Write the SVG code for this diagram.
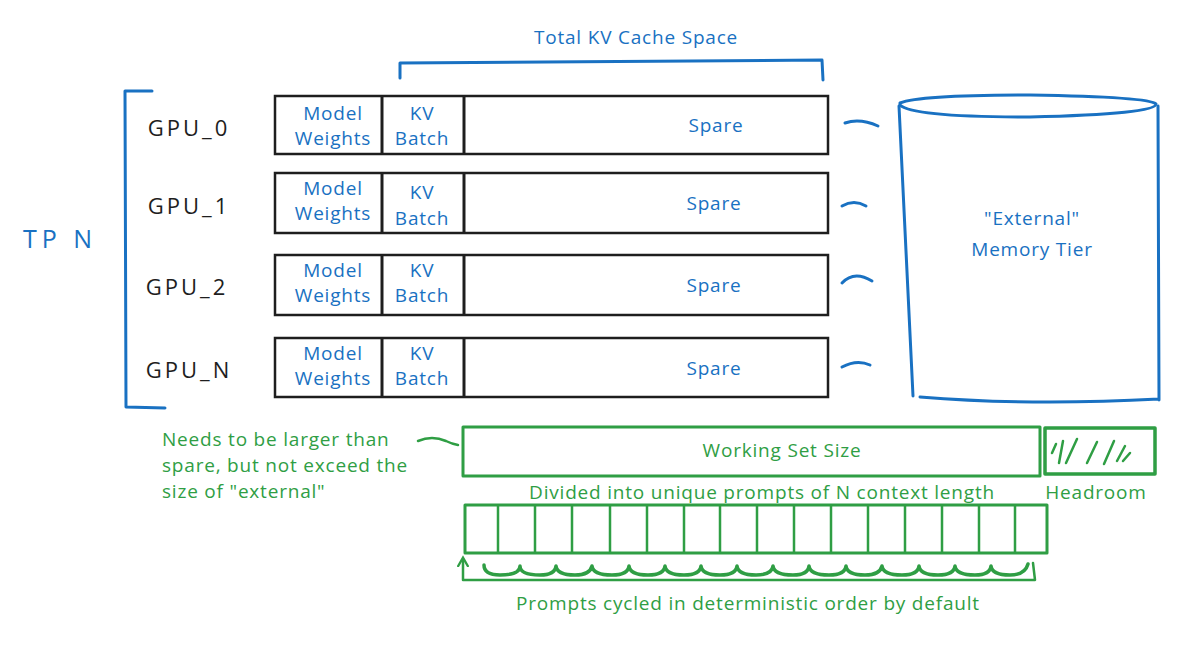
<svg xmlns="http://www.w3.org/2000/svg" width="1200" height="666" viewBox="0 0 1200 666">
<style>
text{font-family:"Open Sans","Liberation Sans",sans-serif;font-size:19px;letter-spacing:0.8px;text-anchor:middle}
.b{fill:#1971c2}.g{fill:#2f9e44}.k{fill:#1e1e1e;font-size:22px;letter-spacing:3px}
.box{fill:none;stroke:#1e1e1e;stroke-width:2.5}
.div{stroke:#1e1e1e;stroke-width:3}
.bl{fill:none;stroke:#1971c2;stroke-width:3;stroke-linecap:round;stroke-linejoin:round}
.gl{fill:none;stroke:#2f9e44;stroke-width:2.5;stroke-linecap:round;stroke-linejoin:round}
</style>
<defs>
<marker id="ah" viewBox="0 0 10 10" refX="6" refY="5" markerWidth="12" markerHeight="12" markerUnits="userSpaceOnUse" orient="auto-start-reverse">
<path d="M1,1 L8,5 L1,9" fill="none" stroke="#2f9e44" stroke-width="2" stroke-linecap="round"/>
</marker>
</defs>
<rect width="1200" height="666" fill="#fff"/>

<g id="tp">
<path class="bl" d="M152,91 L125,91 L126,407 L165,408"/>
<text class="b" x="60" y="248" style="font-size:25px;letter-spacing:5px">TP N</text>
</g>

<g id="kvspace">
<path class="bl" d="M400,78 L400,63 L822,60 L823,80"/>
<text class="b" x="636" y="44">Total KV Cache Space</text>
</g>

<g id="gpu0">
<text class="k" x="189" y="136">GPU_0</text>
<rect class="box" x="275" y="96" width="553" height="58"/>
<line class="div" x1="382" y1="96" x2="382" y2="154"/><line class="div" x1="464" y1="96" x2="464" y2="154"/>
<text class="b" x="333" y="120">Model</text><text class="b" x="333" y="145">Weights</text>
<text class="b" x="422" y="120">KV</text><text class="b" x="422" y="145">Batch</text>
<text class="b" x="716" y="132">Spare</text>
</g>
<g id="gpu1">
<text class="k" x="189" y="214">GPU_1</text>
<rect class="box" x="275" y="173" width="553" height="60"/>
<line class="div" x1="382" y1="173" x2="382" y2="233"/><line class="div" x1="464" y1="173" x2="464" y2="233"/>
<text class="b" x="333" y="195">Model</text><text class="b" x="333" y="220">Weights</text>
<text class="b" x="422" y="199">KV</text><text class="b" x="422" y="225">Batch</text>
<text class="b" x="714" y="210">Spare</text>
</g>
<g id="gpu2">
<text class="k" x="187" y="295">GPU_2</text>
<rect class="box" x="275" y="255" width="553" height="60"/>
<line class="div" x1="382" y1="255" x2="382" y2="315"/><line class="div" x1="464" y1="255" x2="464" y2="315"/>
<text class="b" x="333" y="277">Model</text><text class="b" x="333" y="302">Weights</text>
<text class="b" x="422" y="277">KV</text><text class="b" x="422" y="302">Batch</text>
<text class="b" x="714" y="292">Spare</text>
</g>
<g id="gpuN">
<text class="k" x="189" y="378">GPU_N</text>
<rect class="box" x="275" y="338" width="553" height="59"/>
<line class="div" x1="382" y1="338" x2="382" y2="397"/><line class="div" x1="464" y1="338" x2="464" y2="397"/>
<text class="b" x="333" y="360">Model</text><text class="b" x="333" y="385">Weights</text>
<text class="b" x="422" y="360">KV</text><text class="b" x="422" y="385">Batch</text>
<text class="b" x="714" y="375">Spare</text>
</g>

<g id="connectors">
<path class="bl" d="M845,123 Q860,118 878,126"/>
<path class="bl" d="M842,206 Q854,199 866,206"/>
<path class="bl" d="M842,283 Q854,270 872,281"/>
<path class="bl" d="M842,367 Q857,359 870,365"/>
<path class="gl" d="M418,441 Q432,435 446,441 Q452,444 458,445"/>
</g>

<g id="external">
<path class="bl" d="M900,103 Q920,95 1030,95 Q1150,97 1156,104 Q1156,114 1030,117 Q912,117 900,105 Z"/>
<path class="bl" d="M899,106 L913,396 M1158,106 L1159,400 M920,397 Q1030,406 1159,399"/>
<text class="b" x="1032" y="225">"External"</text>
<text class="b" x="1032" y="256">Memory Tier</text>
</g>

<g id="note">
<text class="g" x="162" y="446" style="text-anchor:start">Needs to be larger than</text>
<text class="g" x="162" y="472" style="text-anchor:start">spare, but not exceed the</text>
<text class="g" x="162" y="498" style="text-anchor:start">size of "external"</text>
</g>

<g id="working">
<rect class="gl" x="463" y="427" width="577" height="49" style="stroke-width:3"/>
<text class="g" x="782" y="457">Working Set Size</text>
</g>

<g id="headroom">
<rect class="gl" x="1045" y="428" width="110" height="46" style="stroke-width:3.5"/>
<path class="gl" d="M1056,444 L1052,453 M1063,441 L1059,463 M1077,439 L1066,463 M1097,442 L1087,463 M1114,441 L1104,464 M1125,446 L1117,461 M1130,453 L1123,461"/>
<text class="g" x="1096" y="499">Headroom</text>
</g>

<g id="prompts">
<text class="g" x="762" y="499">Divided into unique prompts of N context length</text>
<rect class="gl" x="465" y="505" width="582" height="48" style="stroke-width:3"/>
<path class="gl" d="M498,506 V552 M535,506 V552 M572,506 V552 M610,506 V552 M647,506 V552 M684,506 V552 M720,506 V552 M757,506 V552 M794,506 V552 M831,506 V552 M868,506 V552 M905,506 V552 M942,506 V552 M979,506 V552 M1015,506 V552"/>
<path class="gl" style="stroke-width:3.5" d="M484,565 Q484,575 500,575 Q520,575 520,566 Q520,575 540,575 Q555,575 556,566 Q557,575 575,575 Q590,575 592,566 Q593,575 612,575 Q628,575 629,566 Q630,575 648,575 Q664,575 665,566 Q666,575 684,575 Q700,575 701,566 Q702,575 720,575 Q736,575 737,566 Q738,575 756,575 Q772,575 773,566 Q774,575 793,575 Q808,575 809,566 Q810,575 829,575 Q845,575 846,566 Q847,575 865,575 Q880,575 882,566 Q883,575 902,575 Q918,575 919,566 Q920,575 938,575 Q954,575 955,566 Q956,575 975,575 Q990,575 991,566 Q992,575 1010,575 Q1025,575 1028,564"/>
<path class="gl" d="M1033,563 L1035,580 L463,580 L463,560" marker-end="url(#ah)"/>
<text class="g" x="748" y="610">Prompts cycled in deterministic order by default</text>
</g>
</svg>
